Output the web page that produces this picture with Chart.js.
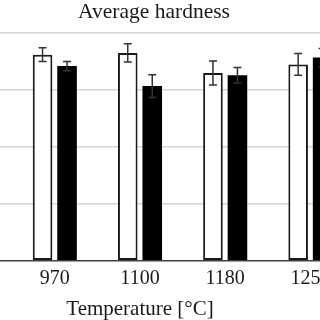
<!DOCTYPE html>
<html>
<head>
<meta charset="utf-8">
<script src="https://cdn.jsdelivr.net/npm/chart.js@4.4.0/dist/chart.umd.min.js"></script>
<style>
  html, body { margin: 0; padding: 0; background: #fff; overflow: hidden; }
  #wrap { position: absolute; left: -73px; top: -4px; width: 454px; height: 326px; }
</style>
</head>
<body>
<div id="wrap"><canvas id="myChart" width="454" height="326"></canvas></div>
<script>
// first category is outside the cropped picture
const temperatures = ['', '970', '1100', '1180', '1250'];
const hardnessA = [null, 361, 364, 329, 344];
const errorA = [null, 12, 16, 21, 19];
const hardnessB = [null, 341, 306, 325, 356];
const errorB = [null, 8, 20, 13.5, 16];
const yMin = 0, yMax = 400, yStep = 100;

const errorBars = {
    id: 'errorBars',
    afterDatasetsDraw(chart) {
        const ctx = chart.ctx;
        const y = chart.scales.y;
        const errs = [errorA, errorB];
        ctx.save();
        ctx.strokeStyle = '#333333';
        ctx.lineWidth = 1.5;
        chart.data.datasets.forEach((ds, i) => {
            chart.getDatasetMeta(i).data.forEach((bar, j) => {
                const v = ds.data[j], e = errs[i][j];
                if (v == null || e == null) return;
                const top = y.getPixelForValue(v + e);
                const bot = y.getPixelForValue(v - e);
                ctx.beginPath();
                ctx.moveTo(bar.x, top); ctx.lineTo(bar.x, bot);
                ctx.moveTo(bar.x - 4, top); ctx.lineTo(bar.x + 4, top);
                ctx.moveTo(bar.x - 4, bot); ctx.lineTo(bar.x + 4, bot);
                ctx.stroke();
            });
        });
        ctx.restore();
    }
};

Chart.defaults.font.family = '"Liberation Serif", "DejaVu Serif", serif';
Chart.defaults.color = '#1a1a1a';

const ctx = document.getElementById('myChart').getContext('2d');
new Chart(ctx, {
    type: 'bar',
    data: {
        labels: temperatures,
        datasets: [{
            data: hardnessA,
            backgroundColor: '#ffffff',
            borderColor: '#1a1a1a',
            borderWidth: 2,
            borderSkipped: false
        }, {
            data: hardnessB,
            backgroundColor: '#000000',
            borderColor: '#000000',
            borderWidth: 0
        }]
    },
    options: {
        responsive: false,
        animation: false,
        layout: { padding: 0 },
        datasets: {
            bar: { categoryPercentage: 0.575, barPercentage: 0.8 }
        },
        scales: {
            x: {
                grid: { display: false, drawTicks: false },
                border: { display: false },
                ticks: { font: { size: 20 }, padding: 6, maxRotation: 0 },
                title: {
                    display: true,
                    text: 'Temperature [°C]',
                    font: { size: 21 },
                    padding: { top: 0, bottom: 0 }
                }
            },
            y: {
                min: yMin,
                max: yMax,
                ticks: { display: false, stepSize: yStep },
                grid: {
                    drawTicks: false,
                    lineWidth: 1.5,
                    color: (c) => c.tick && c.tick.value === 0 ? '#404040' : '#d4d4d4'
                },
                border: { display: false }
            },
            // empty space on the right, so the chart title sits where it does in the figure
            yRight: {
                position: 'right',
                min: yMin,
                max: yMax,
                ticks: { display: false },
                grid: { display: false, drawTicks: false },
                border: { display: false },
                afterFit: (s) => { s.width = 28; }
            }
        },
        plugins: {
            legend: { display: false },
            tooltip: { enabled: false },
            title: {
                display: true,
                text: 'Average hardness',
                font: { size: 21.5, weight: 'normal' },
                padding: { top: 3, bottom: 7.6 }
            }
        }
    },
    plugins: [errorBars]
});
</script>
</body>
</html>
